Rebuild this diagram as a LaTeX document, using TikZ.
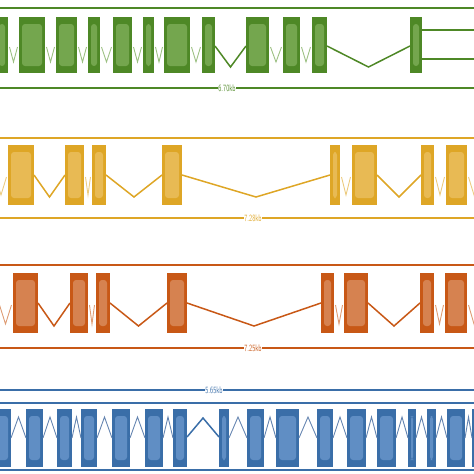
\documentclass[tikz,border=0pt]{standalone}
\usepackage{tikz}
\usetikzlibrary{positioning}
\definecolor{gdark}{RGB}{78,136,38}
\definecolor{glight}{RGB}{116,166,78}
\definecolor{gfaint}{RGB}{156,192,130}
\definecolor{ydark}{RGB}{222,166,38}
\definecolor{ylight}{RGB}{232,186,84}
\definecolor{yfaint}{RGB}{236,204,130}
\definecolor{odark}{RGB}{200,88,22}
\definecolor{olight}{RGB}{214,130,80}
\definecolor{ofaint}{RGB}{222,156,116}
\definecolor{bdark}{RGB}{58,110,168}
\definecolor{blight}{RGB}{96,142,196}
\definecolor{bfaint}{RGB}{100,132,176}

% exons of one track: colour, top, bottom, list of left/right
\newcommand{\exonrow}[4]{%
  \foreach \a/\b in {#4} {
    \fill[#1dark] (\a,#2) rectangle (\b,#3);
    \fill[#1light,rounded corners=3pt] ({\a+3},{#2+7}) rectangle ({\b-3},{#3-7});
  }}

\begin{document}
\begin{tikzpicture}[x=1pt,y=-1pt,
  track/.style={line width=2pt},
  intron/.style={line width=1.5pt},
  faint/.style={line width=0.9pt},
  size/.style={font=\sffamily\fontsize{9.5}{9.5}\selectfont,inner sep=1pt,xscale=0.65}]
  \useasboundingbox (0,0) rectangle (474,474);
  \clip (0,0) rectangle (474,474);

  % green gene
  \draw[gdark,track] (0,8) -- (474,8);
  \exonrow{g}{17}{73}{-4/8,19/45,56/77,88/100,113/132,143/154,164/190,202/215,246/269,283/300,312/327,410/422}
  \foreach \a/\b in {8/19,45/56,77/88,100/113,132/143,154/164,190/202,269/283,300/312}
    \draw[gfaint,faint] ({\a+1.5},47) -- ({(\a+\b)/2},62) -- ({\b-1.5},47);
  \foreach \a/\b in {215/246,327/410}
    \draw[gdark,intron] (\a,46) -- ({(\a+\b)/2},67) -- (\b,46);
  \draw[gdark,track] (422,30) -- (474,30);
  \draw[gdark,track] (422,59) -- (474,59);
  \node[size,text=gdark] (glen) at (227,88) {6.70kb};
  \draw[gdark,track] (0,88) -- (glen.west);
  \draw[gdark,track] (glen.east) -- (474,88);

  % yellow gene
  \draw[ydark,track] (0,138) -- (474,138);
  \exonrow{y}{145}{205}{8/34,65/84,92/106,162/182,330/340,352/377,421/434,446/467}
  \foreach \a/\b in {-6/8,84/92,340/352,434/446,467/481}
    \draw[yfaint,faint] ({\a+1.5},177) -- ({(\a+\b)/2},195) -- ({\b-1.5},177);
  \foreach \a/\b in {34/65,106/162,182/330,377/421}
    \draw[ydark,intron] (\a,175) -- ({(\a+\b)/2},197) -- (\b,175);
  \node[size,text=ydark] (ylen) at (253,218) {7.28kb};
  \draw[ydark,track] (0,218) -- (ylen.west);
  \draw[ydark,track] (ylen.east) -- (474,218);

  % orange gene
  \draw[odark,track] (0,265) -- (474,265);
  \exonrow{o}{273}{333}{13/38,70/88,96/110,167/187,321/334,344/368,420/434,445/467}
  \foreach \a/\b in {-2/13,88/96,334/344,434/445,467/481}
    \draw[ofaint,faint] ({\a+1.5},305) -- ({(\a+\b)/2},324) -- ({\b-1.5},305);
  \foreach \a/\b in {38/70,110/167,187/321,368/420}
    \draw[odark,intron] (\a,303) -- ({(\a+\b)/2},326) -- (\b,303);
  \node[size,text=odark] (olen) at (253,348) {7.25kb};
  \draw[odark,track] (0,348) -- (olen.west);
  \draw[odark,track] (olen.east) -- (474,348);

  % blue gene
  \node[size,text=bdark] (blen) at (214,390) {5.65kb};
  \draw[bdark,track] (0,390) -- (blen.west);
  \draw[bdark,track] (blen.east) -- (474,390);
  \draw[bdark,track] (0,403) -- (474,403);
  \exonrow{b}{409}{467}{-6/11,26/43,57/72,81/97,112/130,145/163,173/187,219/229,247/264,276/299,317/333,347/366,377/396,408/416,427/436,447/465,472/484}
  \foreach \a/\b in {11/26,43/57,72/81,97/112,130/145,163/173,229/247,264/276,299/317,333/347,366/377,396/408,416/427,436/447,465/472}
    \draw[bfaint,faint] (\a,438) -- ({(\a+\b)/2},417) -- (\b,438);
  \draw[bdark,intron] (187,437) -- (203,418) -- (219,437);
  \draw[bdark,track] (0,470) -- (474,470);
\end{tikzpicture}
\end{document}
